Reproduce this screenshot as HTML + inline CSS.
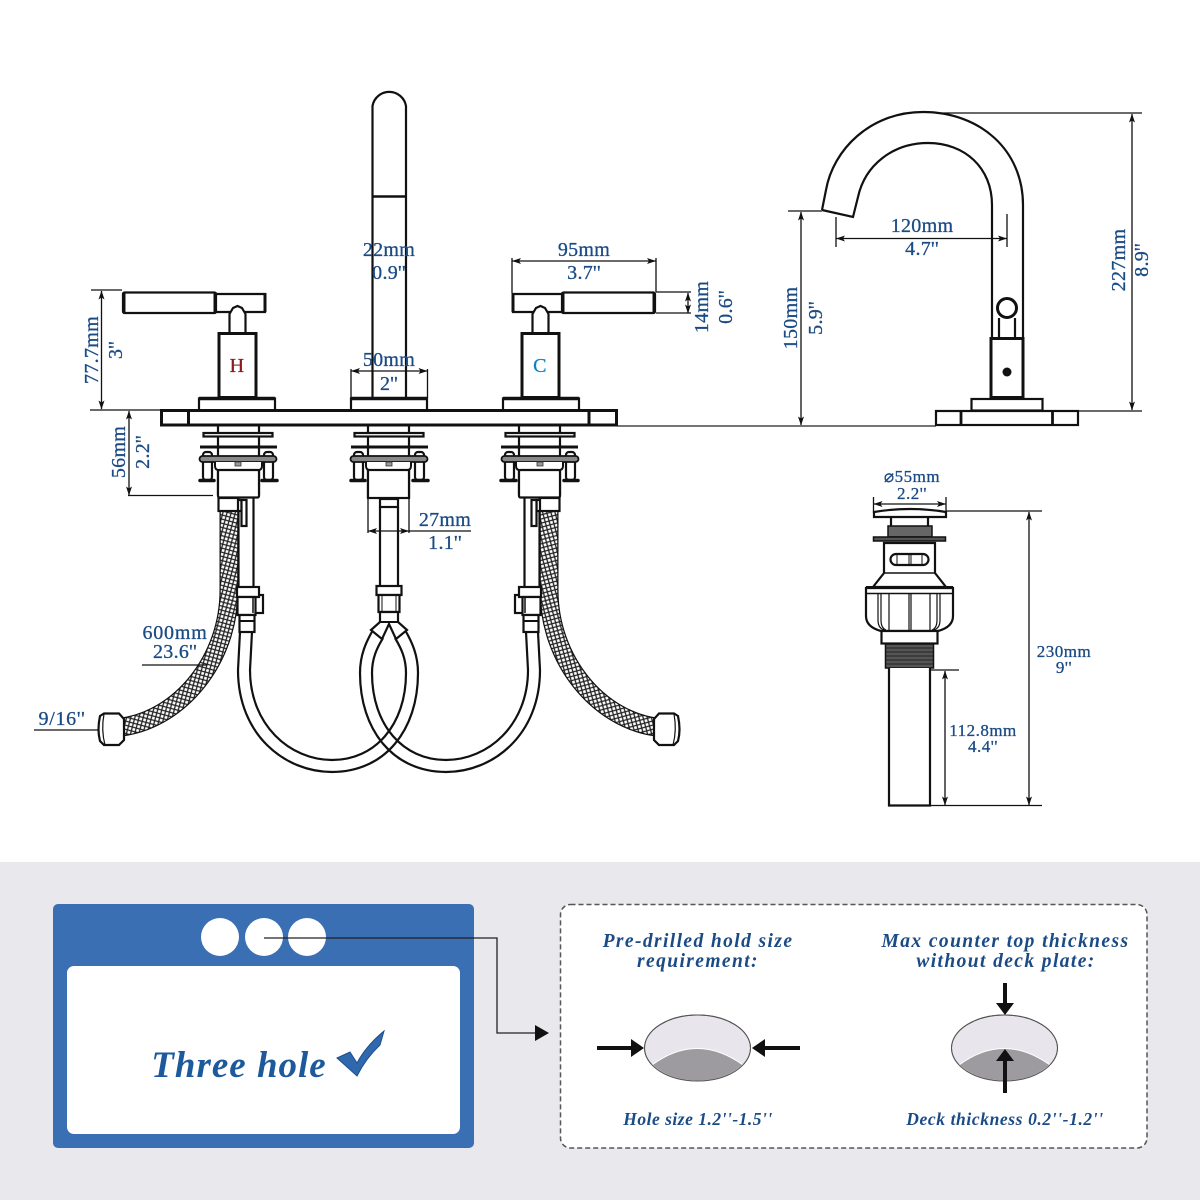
<!DOCTYPE html>
<html><head><meta charset="utf-8"><title>Faucet dimensions</title>
<style>
html,body{margin:0;padding:0;background:#fff}
svg{display:block}
.t{font-family:"Liberation Serif",serif;font-size:20px;fill:#1b4b85;stroke:#1b4b85;stroke-width:.3;text-anchor:middle;letter-spacing:.3px}
.s{font-size:17px;letter-spacing:.5px}
.i{font-style:italic;font-weight:bold;stroke:none;letter-spacing:1.4px}
.d{fill:none;stroke:#111;stroke-width:1.3}
.o{fill:#fff;stroke:#111;stroke-width:2.2}
.b{fill:#fff;stroke:#111;stroke-width:3}
.n{fill:none;stroke:#111;stroke-width:2.2}
</style></head><body>
<svg width="1200" height="1200" viewBox="0 0 1200 1200" xmlns="http://www.w3.org/2000/svg">
<defs>
<marker id="a" markerWidth="9" markerHeight="6" refX="8.5" refY="3" orient="auto-start-reverse" markerUnits="userSpaceOnUse"><path d="M0,0L9,3L0,6L2,3Z" fill="#111"/></marker>
<pattern id="mesh" width="4" height="4" patternUnits="userSpaceOnUse" patternTransform="rotate(15)"><rect width="4" height="4" fill="#fff"/><path d="M0,0H4M0,4H4M0,0V4M4,0V4" stroke="#222" stroke-width="1.300"/></pattern>
<g id="hall">
 <!-- handle -->
 <rect class="o" x="123" y="292.500" width="93" height="20.500" rx="1.500"/>
 <path d="M124,292V313" stroke="#111" stroke-width="3"/>
 <path d="M215,292V313" stroke="#111" stroke-width="3"/>
 <path class="o" d="M216,294H265V312H216Z"/>
 <path d="M265,293V312" stroke="#111" stroke-width="3"/>
 <path d="M229.500,333V314L233,308L237.500,306L242,308L245.500,314V333" fill="#fff" stroke="#111" stroke-width="2.200"/>
 <rect class="b" x="219" y="333.500" width="37" height="64"/>
 <rect class="o" x="199" y="398.500" width="76" height="12"/>
 <path d="M199,398.500H275" stroke="#111" stroke-width="3.500"/>
 <!-- under deck -->
 <path class="n" d="M218,425V495M259,425V495"/>
 <rect class="o" x="203.500" y="433" width="69" height="3.500" stroke-width="1.500"/>
 <path d="M200,447H277" stroke="#111" stroke-width="3"/>
 <rect class="o" x="203" y="452" width="9" height="28" rx="3"/>
 <rect class="o" x="264" y="452" width="9" height="28" rx="3"/>
 <path d="M200,480.500H214M262,480.500H277" stroke="#111" stroke-width="3.500" stroke-linecap="round"/>
 <rect x="199.500" y="456" width="77" height="6" rx="3" fill="#888" stroke="#111" stroke-width="1.800"/>
 <path d="M215,462V466Q215,470 219,470H258Q262,470 262,466V462" fill="#fff" stroke="#111" stroke-width="2"/>
 <path d="M235,462H241V466H235Z" fill="#999" stroke="#333" stroke-width=".8"/>
 <rect class="o" x="218" y="470" width="41" height="27.500" rx="1.500"/>
 <!-- mesh hose -->
 <path d="M229,509V590C229,660 180,719 122,727" fill="none" stroke="#111" stroke-width="19"/>
 <path d="M229,509V590C229,660 180,719 122,727" fill="none" stroke="url(#mesh)" stroke-width="16.500"/>
 <!-- hex below body, tube -->
 <rect class="o" x="218.500" y="498" width="20" height="13"/>
 <path d="M238.500,511V590M253.500,497V590" fill="none" stroke="#111" stroke-width="2.200"/>
 <rect class="o" x="238" y="500" width="3.500" height="11" stroke-width="1.500"/>
 <rect class="o" x="241.500" y="500" width="5" height="26" stroke-width="1.500"/>
 <path d="M100,716L104,713.500H119L124,719V740L119,745H104L100,741Q97,730 100,716Z" class="o"/>
 <path d="M104,714Q101,730 105,745" fill="none" stroke="#111" stroke-width="1.200"/>
 <!-- connector -->
 <rect class="o" x="255" y="595" width="8" height="18"/>
 <rect class="o" x="237" y="587" width="22" height="10"/>
 <rect class="o" x="237.500" y="597" width="18" height="18"/>
 <path d="M253,597V613" stroke="#111" stroke-width="1.500"/>
 <rect class="o" x="239.500" y="615" width="15" height="17"/>
 <path d="M239.500,621H254.500" stroke="#111" stroke-width="2"/>
 <!-- hose edges -->
 <path class="n" d="M240,632L238,670C238,735 285,772 332,772C385,772 418,730 418,673C418,655 412,642 405,630"/>
 <path class="n" d="M252,632L250,670C250,725 290,760 332,760C375,760 406,725 406,673C406,658 401,648 395,638"/>
</g>
</defs>

<!-- Centre spout -->
<path class="n" d="M372.500,397V106A17,17 0 0 1 406,106V397"/>
<path d="M372,196.500H406" stroke="#111" stroke-width="2.500"/>
<rect class="o" x="351" y="398.500" width="76" height="12"/>
<path d="M351,398.500H427" stroke="#111" stroke-width="3.500"/>

<use href="#hall"/>
<use href="#hall" transform="matrix(-1 0 0 1 778 0)"/>

<!-- Centre under deck -->
<path class="n" d="M368,425V498M409,425V498"/>
<rect class="o" x="354.500" y="433" width="69" height="3.500" stroke-width="1.500"/>
<path d="M351,447H428" stroke="#111" stroke-width="3"/>
<rect class="o" x="354" y="452" width="9" height="28" rx="3"/>
<rect class="o" x="415" y="452" width="9" height="28" rx="3"/>
<path d="M351,480.500H365M413,480.500H428" stroke="#111" stroke-width="3.500" stroke-linecap="round"/>
<rect x="350.500" y="456" width="77" height="6" rx="3" fill="#888" stroke="#111" stroke-width="1.800"/>
<path d="M366,462V466Q366,470 370,470H407Q411,470 411,466V462" fill="#fff" stroke="#111" stroke-width="2"/>
<path d="M386,462H392V466H386Z" fill="#999" stroke="#333" stroke-width=".8"/>
<rect class="o" x="368" y="470" width="41" height="28"/>
<rect class="o" x="380" y="499" width="18" height="8" stroke-width="1.800"/>
<path class="n" d="M380,507V586M398,507V586"/>
<rect class="o" x="376.500" y="586" width="25" height="9"/>
<rect class="o" x="378.500" y="595" width="21" height="17"/>
<path d="M382,596V611M396,596V611" stroke="#111" stroke-width="1"/>
<path d="M380,612V622L371,630L382,639L389,624L396,639L407,630L398,622V612Z" class="o"/>
<path d="M380,622H398" stroke="#111" stroke-width="2"/>

<!-- Deck plate -->
<rect x="161.500" y="410.500" width="455" height="14.500" fill="#fff" stroke="#111" stroke-width="3"/>
<path d="M188.500,410V425M589,410V425" stroke="#111" stroke-width="3"/>
<path d="M617,426H936" stroke="#222" stroke-width="1.300"/>

<!-- Left/centre dimensions -->
<path class="d" d="M91,290H122M90,410H161M128,495.500H213"/>
<path class="d" d="M101.500,291V409" marker-start="url(#a)" marker-end="url(#a)"/>
<path class="d" d="M129,411V495" marker-start="url(#a)" marker-end="url(#a)"/>
<path class="d" d="M351,369V398M427.500,369V398"/>
<path class="d" d="M351.500,371H427" marker-start="url(#a)" marker-end="url(#a)"/>
<path class="d" d="M512,258V293M656,258V292"/>
<path class="d" d="M512.500,261H655.500" marker-start="url(#a)" marker-end="url(#a)"/>
<path class="d" d="M656,292H691M656,313H691"/>
<path class="d" d="M688,293V313" marker-start="url(#a)" marker-end="url(#a)"/>
<path class="d" d="M368,498V533M409,498V533M409,531H471"/>
<path class="d" d="M368.500,531H408.500" marker-start="url(#a)" marker-end="url(#a)"/>
<path class="d" d="M142,665H207M34,730H98"/>

<text class="t" x="389" y="256">22mm</text><text class="t" x="389" y="279">0.9''</text>
<text class="t" x="584" y="256">95mm</text><text class="t" x="584" y="279">3.7''</text>
<text class="t" x="389" y="366">50mm</text><text class="t" x="389" y="390">2''</text>
<text class="t" x="445" y="526">27mm</text><text class="t" x="445" y="549">1.1''</text>
<text class="t" x="175" y="639" style="letter-spacing:.8px">600mm</text><text class="t" x="175" y="658">23.6''</text>
<text class="t" x="62" y="725" style="letter-spacing:.7px">9/16''</text>
<text class="t" transform="translate(98,350) rotate(-90)">77.7mm</text>
<text class="t" transform="translate(122,350) rotate(-90)">3''</text>
<text class="t" transform="translate(125,452) rotate(-90)">56mm</text>
<text class="t" transform="translate(149,452) rotate(-90)">2.2''</text>
<text class="t" transform="translate(708,307) rotate(-90)">14mm</text>
<text class="t" transform="translate(732,307) rotate(-90)">0.6''</text>
<text class="t" x="237" y="372" style="fill:#8b1a1a;stroke:#8b1a1a">H</text>
<text class="t" x="540" y="372" style="fill:#0b84c6;stroke:#0b84c6">C</text>

<!-- Side view faucet -->
<path class="n" d="M1023,338V205C1023,150 980,112 923,112C870,112 833,150 826,190L822,210"/>
<path class="n" d="M992,397V205C992,168 965,143 928,143C893,143 865,165 858,197L853,217L822,210"/>
<circle cx="1007" cy="308" r="9.500" fill="#fff" stroke="#111" stroke-width="3"/>
<path class="n" d="M999,318V338M1015,318V338"/>
<rect class="b" x="991" y="338.500" width="32" height="59"/>
<circle cx="1007" cy="372" r="4.500" fill="#111"/>
<rect class="o" x="971.500" y="399" width="71" height="11.500"/>
<rect class="o" x="936" y="411" width="142" height="14" stroke-width="2.800"/>
<path d="M961,411V425M1052.500,411V425" stroke="#111" stroke-width="2.800"/>
<path class="d" d="M940,113H1142M1043,411H1142M788,211H822"/>
<path class="d" d="M1132,114V410" marker-start="url(#a)" marker-end="url(#a)"/>
<path class="d" d="M801,212V425" marker-start="url(#a)" marker-end="url(#a)"/>
<path class="d" d="M836,217V247M1007,214V247"/>
<path class="d" d="M836.500,238.500H1006.500" marker-start="url(#a)" marker-end="url(#a)"/>
<text class="t" x="922" y="232">120mm</text><text class="t" x="922" y="255">4.7''</text>
<text class="t" transform="translate(797,318) rotate(-90)">150mm</text>
<text class="t" transform="translate(822,318) rotate(-90)">5.9''</text>
<text class="t" transform="translate(1125,260) rotate(-90)">227mm</text>
<text class="t" transform="translate(1148,260) rotate(-90)">8.9''</text>

<!-- Drain -->
<path d="M873.500,497V513M946,497V513" class="d"/>
<path class="d" d="M874,504H945.500" marker-start="url(#a)" marker-end="url(#a)"/>
<path class="o" d="M874,517V512Q910,506 946,512V517Z"/>
<path class="n" d="M891,517V527M928,517V527"/>
<rect x="888" y="526" width="44" height="11" fill="#666" stroke="#111" stroke-width="1.500"/>
<rect x="873.500" y="537" width="72" height="4" fill="#555" stroke="#111" stroke-width="1.500"/>
<path class="o" d="M884,543H935V573L946,587H873L884,573Z"/>
<path d="M884,573H935" stroke="#111" stroke-width="1.500"/>
<rect class="o" x="890.500" y="554" width="38" height="11" rx="5.500"/>
<path d="M897,554V565M909,554V565M911,554V565M922,554V565" stroke="#111" stroke-width="1"/>
<path class="o" d="M866,588H953V616Q953,627 938,631H881Q866,627 866,616Z"/>
<path d="M866,587.500H953" stroke="#111" stroke-width="3"/>
<path d="M866,593.500H953" stroke="#111" stroke-width="1.500"/>
<path d="M878,594V620Q878,628 884,630M940,594V620Q940,628 934,630M881,594V620Q881,628 886,630M937,594V620Q937,628 932,630M889,594V631M930,594V631M909,594V631M911,594V631" fill="none" stroke="#111" stroke-width="1.200"/>
<rect class="o" x="881.500" y="631" width="56" height="12.500"/>
<rect x="885.500" y="644" width="48" height="24" fill="#555" stroke="#111" stroke-width="1.500"/>
<path d="M886,648H933M886,652H933M886,656H933M886,660H933M886,664H933" stroke="#222" stroke-width="1"/>
<path class="o" d="M889,668V805.500H930V668"/>
<path class="d" d="M946,511H1042M930,805.500H1042M930,670H959"/>
<path class="d" d="M1029,512V805" marker-start="url(#a)" marker-end="url(#a)"/>
<path class="d" d="M945,671V805" marker-start="url(#a)" marker-end="url(#a)"/>
<text class="t s" x="912" y="482">⌀55mm</text><text class="t s" x="912" y="499">2.2''</text>
<text class="t s" x="1064" y="657">230mm</text><text class="t s" x="1064" y="673">9''</text>
<text class="t s" x="983" y="736">112.8mm</text><text class="t s" x="983" y="752">4.4''</text>

<!-- Bottom band -->
<rect x="0" y="862" width="1200" height="338" fill="#e9e8ec"/>
<rect x="53" y="904" width="421" height="244" rx="5" fill="#3b6fb3"/>
<rect x="67" y="966" width="393" height="168" rx="7" fill="#fff"/>
<circle cx="220" cy="937" r="19" fill="#fff"/><circle cx="264" cy="937" r="19" fill="#fff"/><circle cx="307" cy="937" r="19" fill="#fff"/>
<path d="M264,938H497V1033H536" fill="none" stroke="#222" stroke-width="1.300"/>
<path d="M535,1025L549,1033L535,1041Z" fill="#111"/>
<text class="t i" x="239" y="1077" style="font-size:37px;letter-spacing:1px;fill:#1d5a9c">Three hole</text>
<path d="M337,1058L350,1052L357,1063Q366,1046 384,1031L380,1045Q366,1058 357,1076Z" fill="#2f68ad" stroke="#1d4f8c" stroke-width="1"/>

<rect x="560.500" y="904.500" width="586.500" height="243.500" rx="10" fill="#fff" stroke="#555" stroke-width="1.500" stroke-dasharray="5 3"/>
<text class="t i" x="698" y="947" style="font-size:19.500px">Pre-drilled hold size</text>
<text class="t i" x="698" y="967" style="font-size:19.500px">requirement:</text>
<text class="t i" x="1005.500" y="947" style="font-size:19.500px">Max counter top thickness</text>
<text class="t i" x="1006" y="967" style="font-size:19.500px">without deck plate:</text>
<text class="t i" x="698" y="1125" style="font-size:17.500px;letter-spacing:.5px">Hole size 1.2''-1.5''</text>
<text class="t i" x="1005" y="1125" style="font-size:17.500px;letter-spacing:.6px">Deck thickness 0.2''-1.2''</text>

<ellipse cx="697.500" cy="1048" rx="53" ry="33" fill="#e8e6ec" stroke="#555" stroke-width="1"/>
<path d="M652,1065Q697,1032 743,1065Q725,1081 697.500,1081Q670,1081 652,1065Z" fill="#9d9b9f" stroke="#fff" stroke-width="1"/>
<ellipse cx="697.500" cy="1048" rx="53" ry="33" fill="none" stroke="#555" stroke-width="1"/>
<ellipse cx="1004.500" cy="1048" rx="53" ry="33" fill="#e8e6ec" stroke="#555" stroke-width="1"/>
<path d="M959,1065Q1004,1032 1050,1065Q1032,1081 1004.500,1081Q977,1081 959,1065Z" fill="#9d9b9f" stroke="#fff" stroke-width="1"/>
<ellipse cx="1004.500" cy="1048" rx="53" ry="33" fill="none" stroke="#555" stroke-width="1"/>
<path d="M597,1048H634" stroke="#111" stroke-width="4"/><path d="M631,1039L644,1048L631,1057Z" fill="#111"/>
<path d="M800,1048H763" stroke="#111" stroke-width="4"/><path d="M765,1039L752,1048L765,1057Z" fill="#111"/>
<path d="M1005,983V1006" stroke="#111" stroke-width="4"/><path d="M996,1003H1014L1005,1015Z" fill="#111"/>
<path d="M1005,1093V1060" stroke="#111" stroke-width="4"/><path d="M996,1061H1014L1005,1049Z" fill="#111"/>
</svg>
</body></html>
